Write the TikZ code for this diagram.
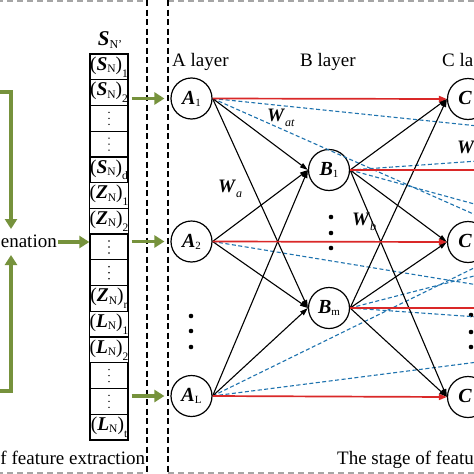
\documentclass[tikz,border=0pt]{standalone}
\usepackage{fontspec}
\setmainfont{Liberation Serif}
\usetikzlibrary{arrows.meta,calc}
\definecolor{gr}{RGB}{118,146,60}
\definecolor{rd}{RGB}{218,40,40}
\definecolor{bl}{RGB}{30,115,175}
\definecolor{fr}{RGB}{165,165,165}
\newcommand{\bi}[1]{\textbf{\textit{#1}}}
\newcommand{\smf}{\fontsize{11.5}{11.5}\selectfont}
\newcommand{\vcellt}[2]{(\bi{#1}\raisebox{-0.12em}{\smf N})\raisebox{-0.35em}{\smf #2}}
\newcommand{\nlab}[2]{\bi{#1}\raisebox{-0.1em}{\fontsize{11}{11}\selectfont #2}}
\begin{document}
\begin{tikzpicture}[x=1pt,y=-1pt,
  lab/.style={font=\fontsize{19}{19}\selectfont, inner sep=0pt},
  neuron/.style={circle, draw, line width=1.2pt, minimum size=41pt, inner sep=0pt, font=\fontsize{20}{20}\selectfont},
  cellbox/.style={draw, line width=1.3pt, minimum width=38pt, minimum height=25.73pt, inner sep=0pt, font=\fontsize{19.5}{19.5}\selectfont},
  garrow/.style={draw=gr, line width=3.4pt, -{Triangle[length=10pt,width=12pt]}},
  blk/.style={line width=1.1pt, -{Triangle[length=8pt,width=5pt]}},
  redarr/.style={draw=rd, line width=1.7pt, -{Triangle[length=8pt,width=6pt]}},
  redln/.style={draw=rd, line width=1.7pt},
  dsh/.style={draw=bl, line width=1.1pt, dash pattern=on 4pt off 2.5pt},
  frm/.style={draw=fr, line width=2.5pt, dash pattern=on 6pt off 4pt},
  vfrm/.style={draw=black, line width=1.3pt, dash pattern=on 6pt off 3.5pt},
  wlab/.style={font=\fontsize{19}{19}\selectfont, inner sep=0pt, anchor=base west}
]
\useasboundingbox (0,0) rectangle (474,474);
\clip (0,0) rectangle (474,474);
\fill[white] (0,0) rectangle (474,474);

% frames
\draw[frm] (-3,1) -- (147,1);
\draw[frm] (-3,473) -- (147,473);
\draw[frm] (168,1) -- (480,1);
\draw[frm] (168,473) -- (480,473);
\draw[vfrm] (147,0) -- (147,473);
\draw[vfrm] (168,0) -- (168,473);

% column vector
\foreach \i/\t in {1/{\vcellt{S}{1}},2/{\vcellt{S}{2}},3/{},4/{},5/{\vcellt{S}{d}},
  6/{\vcellt{Z}{1}},7/{\vcellt{Z}{2}},8/{},9/{},10/{\vcellt{Z}{r}},
  11/{\vcellt{L}{1}},12/{\vcellt{L}{2}},13/{},14/{},15/{\vcellt{L}{t}}}
  \node[cellbox] (c\i) at (109,{54+25.73*(\i-0.5)}) {\t};
\foreach \i in {3,4,8,9,13,14}
  \foreach \d in {-6,0,6}
    \fill ($(c\i.center)+(0,\d)$) circle (0.8);
\node[font=\fontsize{21}{21}\selectfont, inner sep=0pt] (sn) at (110,40) {\bi{S}\raisebox{-0.1em}{\fontsize{12}{12}\selectfont N'}};

% left part
\node[lab, anchor=base east] (cc) at (57,247) {enation};
\coordinate (ccr) at (58,242);
\draw[garrow] (ccr) -- (c8.west |- ccr);
\coordinate (bt0) at (-5,92);
\coordinate (bt1) at (11,92);
\coordinate (bt2) at (11,229);
\coordinate (bb0) at (-5,391);
\coordinate (bb1) at (11,391);
\coordinate (bb2) at (11,255);
\draw[garrow] (bt0) -- (bt1) -- (bt2);
\draw[garrow] (bb0) -- (bb1) -- (bb2);
\node[lab, anchor=base west] (ltxt) at (0.3,464) {f feature extraction};

% layer labels
\node[lab, anchor=base west] (la) at (172,66) {A layer};
\node[lab, anchor=base west] (lb) at (300,66) {B layer};
\node[lab, anchor=base west] (lc) at (442,66) {C la};
\node[lab, anchor=base west] (rtxt) at (337,464) {The stage of featu};

% neurons
\node[neuron] (A1) at (191.5,98.5) {\nlab{A}{1}};
\node[neuron] (A2) at (191.5,241.5) {\nlab{A}{2}};
\node[neuron] (AL) at (191.5,396) {\nlab{A}{L}};
\node[neuron] (B1) at (329,170) {\nlab{B}{1}};
\node[neuron] (Bm) at (329,308) {\nlab{B}{m}};
\node[neuron] (C1) at (468,99) {\nlab{C}{\phantom{1}}};
\node[neuron] (C2) at (468,242) {\nlab{C}{\phantom{2}}};
\node[neuron] (C3) at (468,397) {\nlab{C}{\phantom{n}}};

% dots
\foreach \y in {316,331,347} \fill (191,\y) circle (2.3);
\foreach \y in {217,233,248} \fill (331,\y) circle (2.3);
\foreach \y in {315,332,347} \fill (471,\y) circle (2.3);

% green arrows column -> A
\foreach \n in {A1,A2,AL}
  \draw[garrow, shorten <=3pt, shorten >=6pt] (c1.east |- \n) -- (\n.west);

% dashed skip connections
\coordinate (e1) at (478,126);
\coordinate (e2) at (478,216);
\coordinate (e3) at (478,285);
\coordinate (e4) at (478,266);
\coordinate (e5) at (478,362);
\coordinate (e6) at (478,161);
\coordinate (e7) at (478,205);
\coordinate (e8) at (478,275);
\coordinate (e9) at (478,317);
\draw[dsh] (A1.east) -- (e1);
\draw[dsh] (A1.east) -- (e2);
\draw[dsh] (A2.east) -- (e3);
\draw[dsh] (AL.east) -- (e4);
\draw[dsh] (AL.east) -- (e5);
\draw[dsh] (B1.east) -- (e6);
\draw[dsh] (B1.east) -- (e7);
\draw[dsh] (Bm.east) -- (e8);
\draw[dsh] (Bm.east) -- (e9);

% black connections
\foreach \a in {A1,A2,AL}
  \foreach \b in {B1,Bm}
    \draw[blk] (\a.east) -- (\b.west);
\foreach \b in {B1,Bm}
  \foreach \c in {C1,C2,C3}
    \draw[blk] (\b.east) -- (\c.west);

% red connections
\draw[redarr] (A1.east) -- (C1.west);
\draw[redarr] (A2.east) -- (C2.west);
\draw[redarr] (AL.east) -- (C3.west);
\coordinate (far) at (480,0);
\draw[redln] (B1.east) -- (B1.east -| far);
\draw[redln] (Bm.east) -- (Bm.east -| far);

% weight labels
\node[wlab] (wat) at (267,121) {\bi{W}\raisebox{-0.3em}{\fontsize{12}{12}\selectfont\textit{at}}};
\node[wlab] (wa) at (218,192) {\bi{W}\raisebox{-0.3em}{\fontsize{12}{12}\selectfont\textit{a}}};
\node[wlab] (wb) at (352,225) {\bi{W}\raisebox{-0.3em}{\fontsize{12}{12}\selectfont\textit{b}}};
\node[wlab] (wc) at (457,153) {\bi{W}};
\end{tikzpicture}
\end{document}
